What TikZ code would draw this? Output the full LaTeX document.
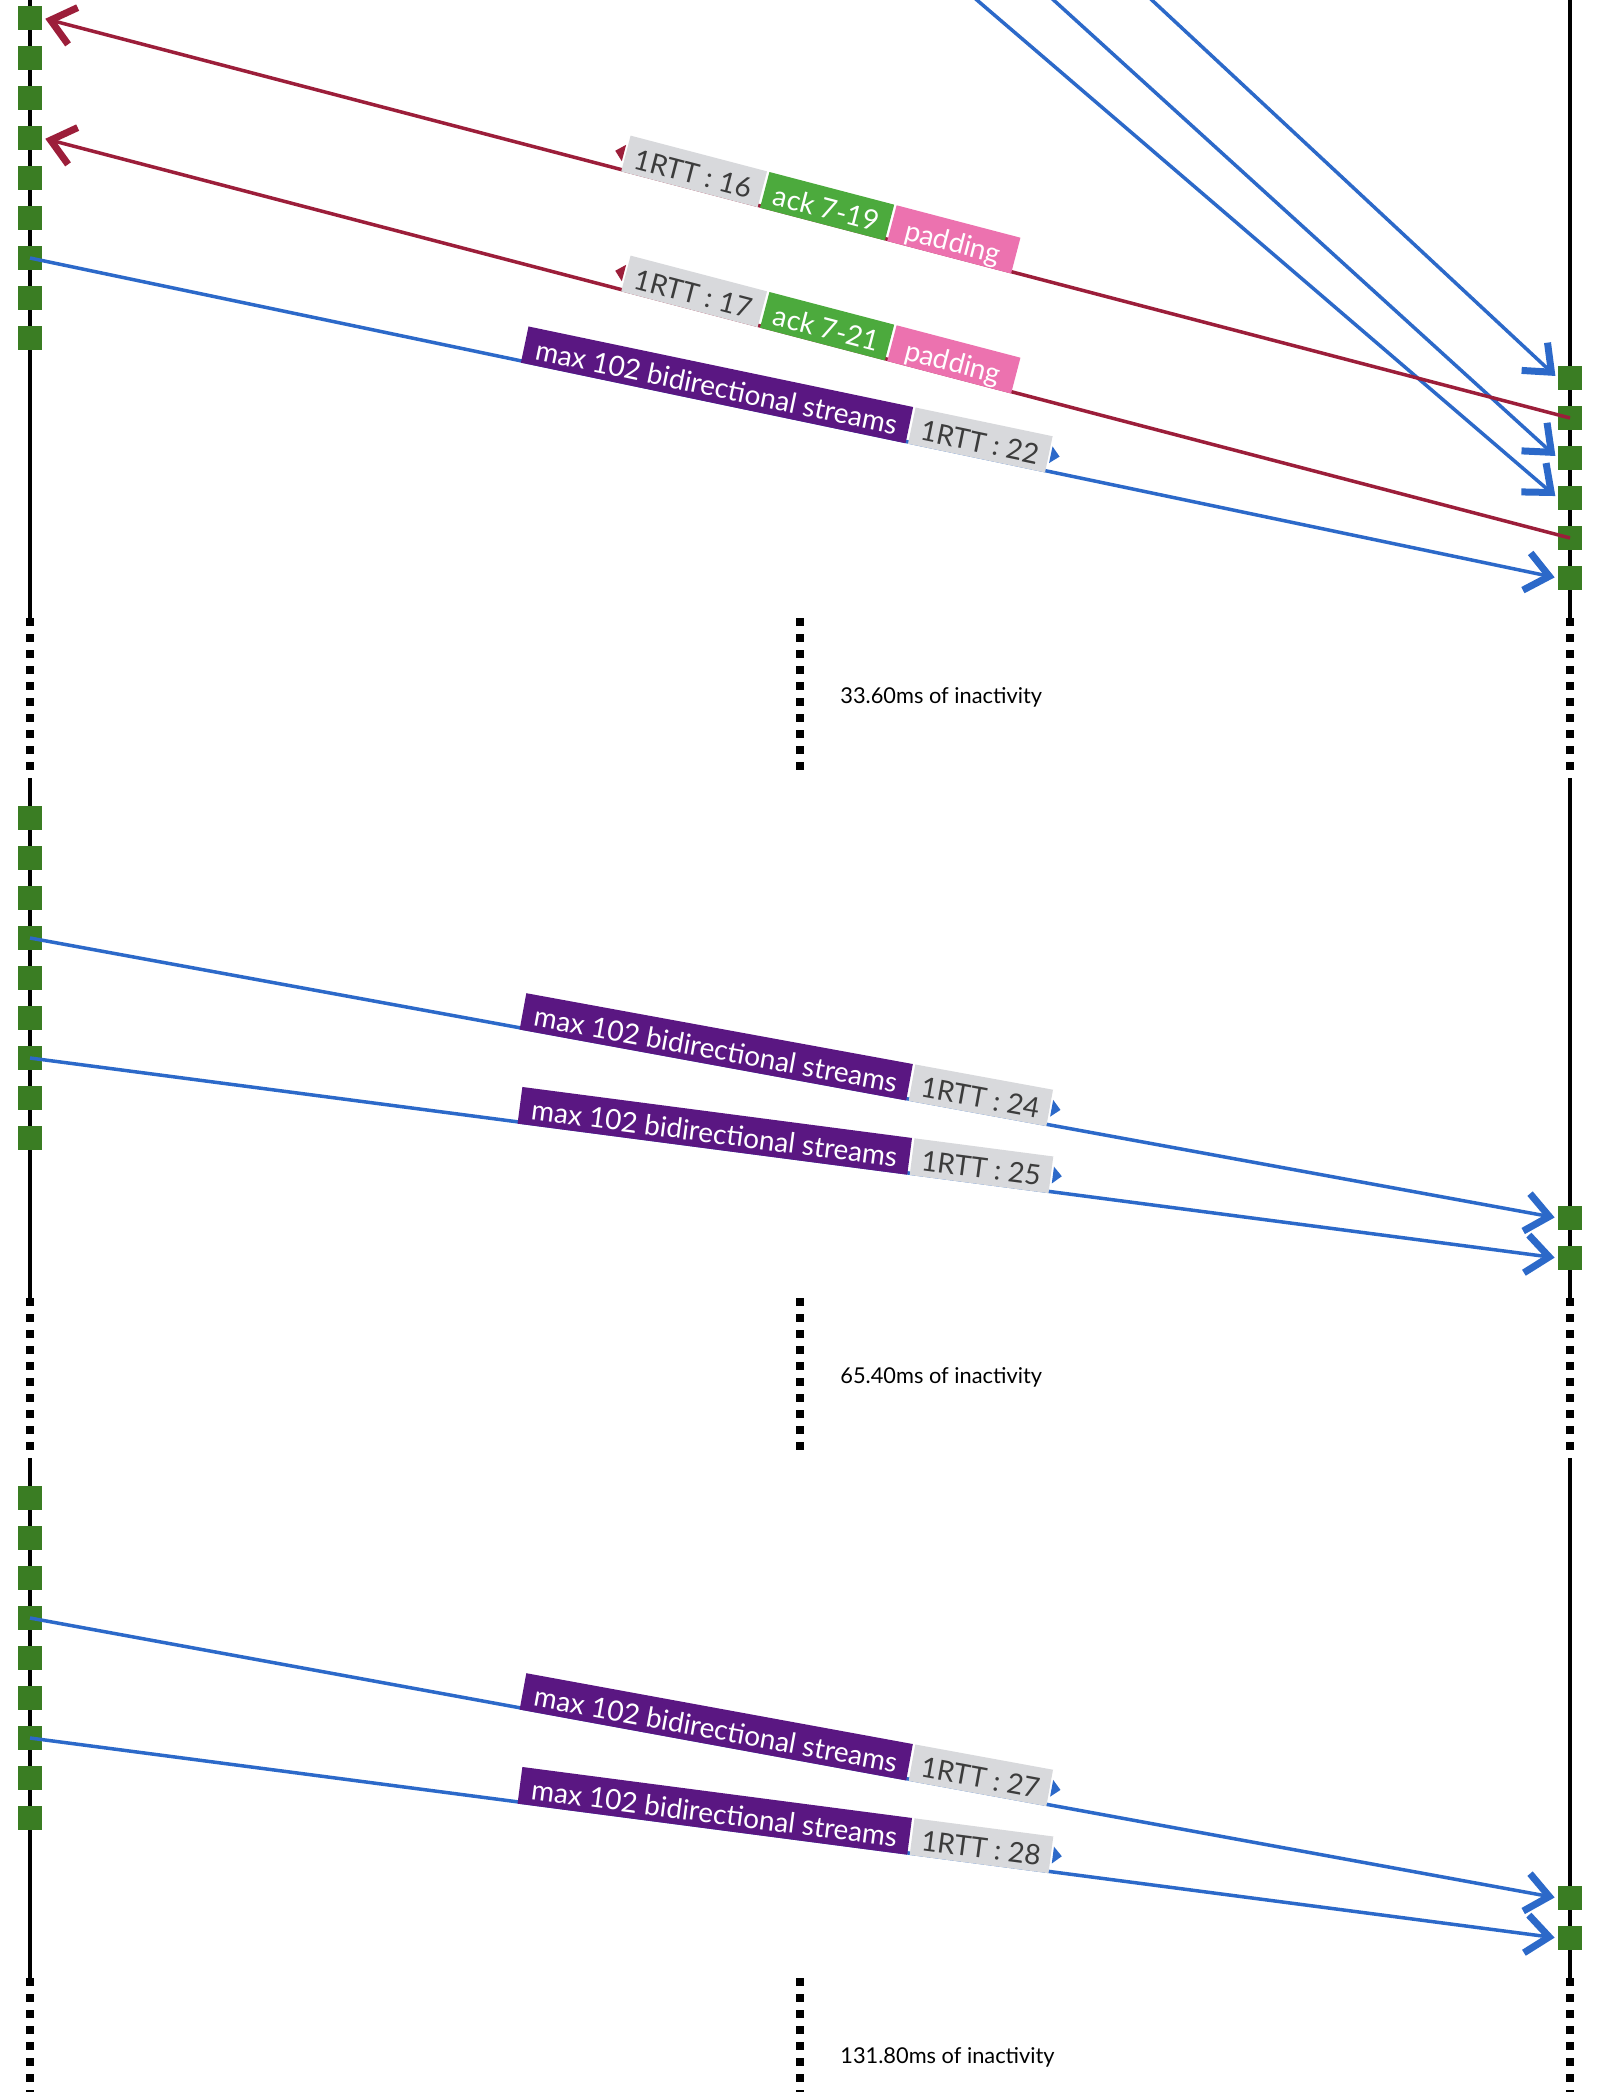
\documentclass[tikz,border=0pt]{standalone}
\usepackage{fontspec}
\setmainfont{Lato}
\usetikzlibrary{arrows.meta}
\definecolor{sqc}{HTML}{3A7D23}
\definecolor{blc}{HTML}{2C69C9}
\definecolor{rdc}{HTML}{9C1E3A}
\definecolor{puc}{HTML}{5A1782}
\definecolor{grc}{HTML}{4CAA3D}
\definecolor{pkc}{HTML}{EC72AF}
\definecolor{gyc}{HTML}{D8D9DC}
\definecolor{gtc}{HTML}{3C3C3C}
\newcommand\lblfont{\fontsize{14}{16}\selectfont}
\newcommand\pbx[4]{{\setlength{\fboxsep}{0pt}\colorbox{#1}{\makebox[#3][c]{\rule[-3pt]{0pt}{18.5pt}\color{#2}\lblfont #4}}}}
\newcommand\ltri[1]{\tikz[x=1pt,y=1pt,baseline=0pt]{\useasboundingbox (-0.5,-3) rectangle (5.5,15.5); \fill[#1] (0,6.25) -- (4.5,10.5) -- (4.5,2) -- cycle;}}
\newcommand\rtri[1]{\tikz[x=1pt,y=1pt,baseline=0pt]{\useasboundingbox (-1,-3) rectangle (5,15.5); \fill[#1] (4.5,6.25) -- (0,10.5) -- (0,2) -- cycle;}}
\newcommand\gp{\kern1.25pt}
\newcommand\onl[1]{\raisebox{2.1pt}{#1}}
\begin{document}
\begin{tikzpicture}[x=0.5pt,y=-0.5pt,
  sqr/.style={rectangle, fill=sqc, draw=none, minimum size=12pt, inner sep=0pt},
  axis/.style={line width=2pt, black},
  gapdots/.style={line width=4pt, black, dash pattern=on 4pt off 4pt},
  conn/.style={line width=1.75pt, -{Straight Barb[length=11.5pt, width=19pt, line width=3.5pt, sharp]}, shorten >=1.5pt},
  bluec/.style={conn, blc},
  redc/.style={conn, rdc},
  lab/.style={sloped, pos=0.497, anchor=base, inner sep=0pt},
  gaptext/.style={anchor=west, inner sep=0pt, text=black, font=\fontsize{10.9}{13}\selectfont}]
\useasboundingbox (0,0) rectangle (1612,2092);
\clip (0,0) rectangle (1612,2092);
\fill[white] (0,0) rectangle (1612,2092);
% timelines
\foreach \x in {30,1570}{
  \draw[axis] (\x,0) -- (\x,618);
  \draw[gapdots] (\x,618) -- (\x,772);
  \draw[axis] (\x,778) -- (\x,1298);
  \draw[gapdots] (\x,1298) -- (\x,1452);
  \draw[axis] (\x,1458) -- (\x,1978);
  \draw[gapdots] (\x,1978) -- (\x,2140);
}
\draw[gapdots] (800,618) -- (800,772);
\draw[gapdots] (800,1298) -- (800,1452);
\draw[gapdots] (800,1978) -- (800,2140);
\node[gaptext] (gapA) at (840,697) {33.60ms of inactivity};
\node[gaptext] (gapB) at (840,1377) {65.40ms of inactivity};
\node[gaptext] (gapC) at (840,2057) {131.80ms of inactivity};
% packet marks
\foreach \i in {1,...,9}{
  \node[sqr] (La\i) at (30,{18+40*(\i-1)}) {};
  \node[sqr] (Lb\i) at (30,{818+40*(\i-1)}) {};
  \node[sqr] (Lc\i) at (30,{1498+40*(\i-1)}) {};
}
\foreach \i in {1,...,6}{
  \node[sqr] (Ra\i) at (1570,{378+40*(\i-1)}) {};
}
\foreach \i in {1,2}{
  \node[sqr] (Rb\i) at (1570,{1218+40*(\i-1)}) {};
  \node[sqr] (Rc\i) at (1570,{1898+40*(\i-1)}) {};
}
% sources above the visible part
\coordinate (srcA) at (30,-812);
\coordinate (srcB) at (30,-930);
\coordinate (srcC) at (30,-1045);
\draw[bluec] (srcC) -- (Ra1.west);
\draw[bluec] (srcB) -- (Ra3.west);
\draw[bluec] (srcA) -- (Ra4.west);
% section 1
\draw[redc] (Ra2.center) -- node[lab] (labA) {\onl{\ltri{rdc}\pbx{gyc}{gtc}{70.5pt}{1RTT : 16}\gp\pbx{grc}{white}{64.5pt}{ack 7-19}\gp\pbx{pkc}{white}{64pt}{padding}}} (La1.east);
\draw[redc] (Ra5.center) -- node[lab] (labB) {\onl{\ltri{rdc}\pbx{gyc}{gtc}{70.5pt}{1RTT : 17}\gp\pbx{grc}{white}{64.5pt}{ack 7-21}\gp\pbx{pkc}{white}{64pt}{padding}}} (La4.east);
\draw[bluec] (La7.center) -- node[lab] (labC) {\onl{\pbx{puc}{white}{196.5pt}{max 102 bidirectional streams}\gp\pbx{gyc}{gtc}{70pt}{1RTT : 22}\rtri{blc}}} (Ra6.west);
% section 2
\draw[bluec] (Lb4.center) -- node[lab] (labD) {\onl{\pbx{puc}{white}{196.5pt}{max 102 bidirectional streams}\gp\pbx{gyc}{gtc}{70pt}{1RTT : 24}\rtri{blc}}} (Rb1.west);
\draw[bluec] (Lb7.center) -- node[lab] (labE) {\onl{\pbx{puc}{white}{196.5pt}{max 102 bidirectional streams}\gp\pbx{gyc}{gtc}{70pt}{1RTT : 25}\rtri{blc}}} (Rb2.west);
% section 3
\draw[bluec] (Lc4.center) -- node[lab] (labF) {\onl{\pbx{puc}{white}{196.5pt}{max 102 bidirectional streams}\gp\pbx{gyc}{gtc}{70pt}{1RTT : 27}\rtri{blc}}} (Rc1.west);
\draw[bluec] (Lc7.center) -- node[lab] (labG) {\onl{\pbx{puc}{white}{196.5pt}{max 102 bidirectional streams}\gp\pbx{gyc}{gtc}{70pt}{1RTT : 28}\rtri{blc}}} (Rc2.west);
\end{tikzpicture}
\end{document}
